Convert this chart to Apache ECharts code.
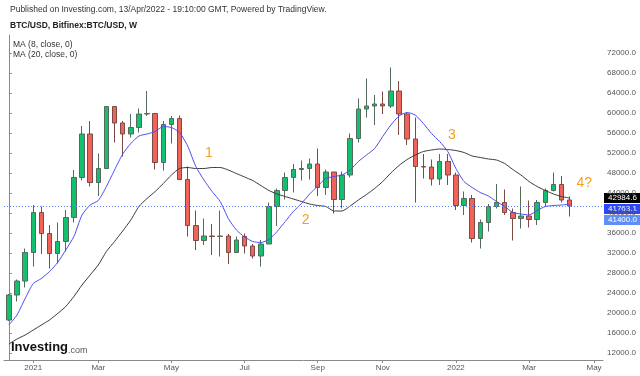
<!DOCTYPE html>
<html>
<head>
<meta charset="utf-8">
<style>
  html, body { margin: 0; padding: 0; background: #fff; }
  #chart { width: 640px; height: 376px; }
</style>
<script src="https://cdn.jsdelivr.net/npm/echarts@6/dist/echarts.min.js"></script>
</head>
<body>
<div id="chart"></div>
<script>
// weekly candles, week index 0 = 14 Dec 2020
var xTicks = [3, 11, 20, 29, 38, 46, 55, 64, 72]
var xTickLabels = ['2021', 'Mar', 'May', 'Jul', 'Sep', 'Nov', '2022', 'Mar', 'May']
var yTicks = [12000, 16000, 20000, 24000, 28000, 32000, 36000, 40000, 44000, 48000, 52000, 56000, 60000, 64000, 68000, 72000]

var open = [18600, 23600, 26400, 32100, 40100, 35900, 31900, 34300, 39100, 47100,
  55800, 46100, 48900, 61300, 58000, 55800, 57100, 59800, 59900, 50100,
  57700, 58900, 46700, 37500, 34500, 35400, 35300, 35400, 32100, 35300,
  33400, 31400, 33800, 41300, 44500, 47100, 48700, 48900, 49800, 45100,
  48200, 42700, 47600, 54900, 60800, 61400, 61800, 61400, 64400, 59800,
  54800, 49300, 49200, 46800, 50300, 47600, 41500, 42900, 34900, 38100,
  41300, 42100, 40100, 38900, 39400, 38700, 42100, 44500, 45700, 42600]
var close = [23600, 26400, 32100, 40100, 35900, 31900, 34300, 39100, 47100, 55800,
  46100, 48900, 61300, 58000, 55800, 57100, 59800, 59900, 50100, 57700,
  58900, 46700, 37500, 34500, 35400, 35300, 35400, 32100, 34600, 33400,
  31400, 33800, 41300, 44500, 47100, 48700, 48900, 49800, 45100, 48200,
  42700, 47600, 54900, 60800, 61400, 61800, 61400, 64400, 59800, 54800,
  49300, 49200, 46800, 50300, 47600, 41500, 42900, 34900, 38100, 41300,
  42100, 40100, 38900, 39400, 38700, 42100, 44500, 45700, 42600, 41400]
var low = [18400, 22300, 25100, 29300, 31800, 28900, 29900, 32300, 38100, 46500,
  45300, 43400, 48900, 54100, 51300, 55100, 56100, 59400, 48700, 48500,
  53900, 46600, 35300, 32600, 33600, 31600, 31300, 29800, 32100, 31900,
  30900, 29300, 33800, 37400, 42700, 44100, 46500, 46700, 43400, 43600,
  39900, 40900, 47100, 54100, 59100, 57600, 59800, 61000, 55600, 53600,
  42100, 46900, 45500, 45600, 45600, 40600, 39600, 34100, 32900, 36300,
  40900, 39600, 34500, 36900, 37100, 37600, 41300, 44300, 42100, 39300]
var high = [23800, 26700, 32900, 41600, 41300, 37600, 38100, 40600, 48600, 57400,
  58400, 51900, 61400, 61400, 58400, 59800, 60900, 64400, 60000, 58400,
  59400, 59500, 49300, 40500, 38900, 37800, 40500, 35800, 35300, 35900,
  33800, 34600, 42100, 44900, 48100, 49800, 50500, 50900, 52900, 48700,
  48200, 48300, 55900, 62900, 66900, 63600, 64300, 69100, 66400, 60100,
  59100, 51800, 50700, 51800, 51800, 48100, 44300, 43600, 38700, 41800,
  45800, 44700, 40900, 45300, 42500, 42600, 44900, 48100, 47400, 43300]

var ma8 = [17600, 19600, 22900, 25900, 26900, 28300, 30100, 32600, 35300, 39600,
  41600, 42500, 45300, 48600, 51800, 53900, 55400, 55800, 56300, 57300,
  57100, 56100, 53400, 49300, 46600, 44300, 42300, 38900, 36600, 35200,
  34300, 34100, 34700, 36300, 38300, 40300, 41900, 43800, 45400, 46900,
  47300, 47600, 48600, 50300, 51600, 52900, 55300, 57600, 59400, 60100,
  59600, 57900, 55900, 54300, 52300, 48900, 46300, 45100, 44100, 43400,
  42300, 41300, 40100, 39800, 39600, 40500, 41300, 41500, 41600, 41763.1]
var ma20 = [13800, 14800, 15600, 16600, 17600, 18600, 19900, 21300, 23300, 25600,
  27600, 29600, 32300, 34300, 36400, 38600, 41300, 42900, 44300, 45900,
  47600, 48900, 49100, 48900, 48900, 49100, 49100, 48600, 47900, 47200,
  46500, 45500, 44500, 43800, 43300, 42800, 42300, 41800, 41500, 41300,
  40400, 40400, 41400, 42600, 43700, 44900, 46300, 48000, 49500, 50700,
  51600, 52300, 52600, 52800, 52700, 52500, 52100, 51400, 51100, 50800,
  50600, 49900, 48700, 47600, 46300, 45300, 44500, 43800, 43300, 42984.6]

var lastPrice = 41400

var candles = open.map(function (o, i) { return [i, o, close[i], low[i], high[i]] })
var ma8Data = ma8.map(function (v, i) { return [i, v] })
var ma20Data = ma20.map(function (v, i) { return [i, v] })

var myChart = echarts.init(document.getElementById('chart'))

var font = 'Arial, "Liberation Sans", sans-serif'

var option = {
  animation: false,
  backgroundColor: '#fff',
  grid: { left: 4, right: 37, top: 35, bottom: 16 },
  xAxis: {
    type: 'value',
    min: -0.6,
    max: 73.1,
    splitLine: { show: false },
    axisLine: { show: true, lineStyle: { color: '#8a8a8a' } },
    axisTick: { show: true, length: 3, customValues: xTicks, lineStyle: { color: '#8a8a8a' } },
    axisLabel: {
      customValues: xTicks,
      margin: 4,
      fontSize: 8,
      fontFamily: font,
      color: '#555',
      formatter: function (v) { return xTickLabels[xTicks.indexOf(v)] }
    }
  },
  yAxis: {
    type: 'value',
    position: 'right',
    min: 10600,
    max: 75600,
    scale: true,
    splitLine: { show: false },
    axisLine: { show: true, lineStyle: { color: '#8a8a8a' } },
    axisTick: { show: true, length: 3, customValues: yTicks, lineStyle: { color: '#8a8a8a' } },
    axisLabel: {
      customValues: yTicks,
      margin: 4,
      fontSize: 8,
      fontFamily: font,
      color: '#555',
      formatter: function (v) { return v.toFixed(1) }
    }
  },
  series: [
    {
      type: 'candlestick',
      data: candles,
      barWidth: 5,
      itemStyle: {
        color: '#12c06f',
        color0: '#f1625b',
        borderColor: '#56695d',
        borderColor0: '#7d4b46',
        borderWidth: 1
      },
      markLine: {
        silent: true,
        symbol: ['none', 'none'],
        label: { show: false },
        lineStyle: { type: [1, 2], color: '#5b7fff', width: 1 },
        data: [{ yAxis: lastPrice }]
      }
    },
    {
      type: 'line',
      data: ma20Data,
      showSymbol: false,
      smooth: 0.2,
      lineStyle: { color: '#3a3a3a', width: 1 }
    },
    {
      type: 'line',
      data: ma8Data,
      showSymbol: false,
      smooth: 0.2,
      lineStyle: { color: '#4d4df2', width: 1 },
      markPoint: {
        symbol: 'circle',
        symbolSize: 0,
        silent: true,
        label: { show: true, position: 'inside', color: '#f5a020', fontSize: 14, fontFamily: font,
          formatter: function (p) { return p.value } },
        data: [
          { coord: [24.6, 52000], value: '1' },
          { coord: [36.5, 38600], value: '2' },
          { coord: [54.5, 55600], value: '3' },
          { coord: [70.8, 46000], value: '4?' }
        ]
      }
    }
  ],
  graphic: [
    { type: 'text', left: 10, top: 5,
      style: { text: 'Published on Investing.com, 13/Apr/2022 - 19:10:00 GMT, Powered by TradingView.', font: '8.5px ' + font, fill: '#333' } },
    { type: 'text', left: 10, top: 21,
      style: { text: 'BTC/USD, Bitfinex:BTC/USD, W', font: 'bold 8.5px ' + font, fill: '#222' } },
    { type: 'text', left: 13, top: 40,
      style: { text: 'MA (8, close, 0)', font: '8.5px ' + font, fill: '#333' } },
    { type: 'text', left: 13, top: 50,
      style: { text: 'MA (20, close, 0)', font: '8.5px ' + font, fill: '#333' } },
    { type: 'text', left: 11, top: 341,
      style: { text: 'Investing', font: 'bold 13px ' + font, fill: '#111' } },
    { type: 'text', left: 68, top: 346,
      style: { text: '.com', font: '9px ' + font, fill: '#555' } }
  ]
}

myChart.setOption(option)

// value tags on the price axis, stacked so they don't overlap
var tags = [
  { v: ma20[ma20.length - 1], bg: '#000000' },
  { v: ma8[ma8.length - 1], bg: '#2a46ff' },
  { v: lastPrice, bg: '#5f8ff5' }
]
tags.forEach(function (t) { t.y = myChart.convertToPixel({ yAxisIndex: 0 }, t.v) })
tags.sort(function (a, b) { return a.y - b.y })
var prev = -100
var tagGraphics = []
tags.forEach(function (t) {
  var y = Math.max(t.y, prev + 11)
  prev = y
  tagGraphics.push({
    type: 'group',
    left: 604,
    top: y - 5,
    children: [
      { type: 'rect', shape: { x: 0, y: 0, width: 36, height: 10 }, style: { fill: t.bg } },
      { type: 'text', x: 4, y: 1, style: { text: t.v.toFixed(1), font: '8px ' + font, fill: '#fff' } }
    ]
  })
})
myChart.setOption({ graphic: option.graphic.concat(tagGraphics) })
</script>
</body>
</html>
